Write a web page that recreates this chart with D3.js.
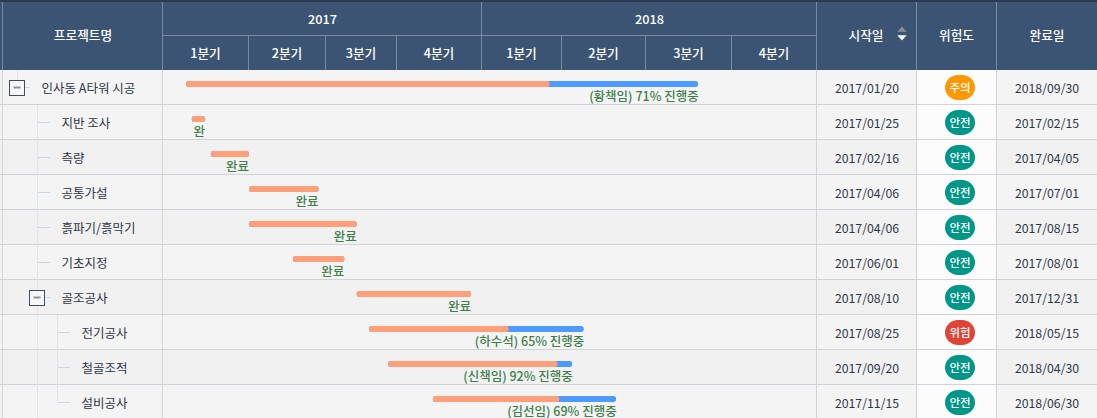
<!DOCTYPE html>
<html>
<head>
<meta charset="utf-8" />
<script src="https://d3js.org/d3.v7.min.js"></script>
<style>
  body { margin: 0; background: #fff; overflow: hidden; }
  svg { display: block; }
  text { font-family: "Noto Sans CJK KR", "Noto Sans", sans-serif; }
</style>
</head>
<body>
<div id="chart"></div>
<script>
// table data
const projects = ["인사동 A타워 시공", "지반 조사", "측량", "공통가설", "흙파기/흙막기", "기초지정", "골조공사", "전기공사", "철골조적", "설비공사"];
const levels = [0, 1, 1, 1, 1, 1, 1, 2, 2, 2];
const startLabels = ["2017/01/20", "2017/01/25", "2017/02/16", "2017/04/06", "2017/04/06", "2017/06/01", "2017/08/10", "2017/08/25", "2017/09/20", "2017/11/15"];
const endLabels = ["2018/09/30", "2017/02/15", "2017/04/05", "2017/07/01", "2017/08/15", "2017/08/01", "2017/12/31", "2018/05/15", "2018/04/30", "2018/06/30"];
const risks = ["주의", "안전", "안전", "안전", "안전", "안전", "안전", "위험", "안전", "안전"];

// where the bars actually sit (not quite the table dates)
const barStarts = ["2017-01-20", "2017-01-27", "2017-02-19", "2017-04-06", "2017-04-06", "2017-05-29", "2017-08-14", "2017-08-29", "2017-09-21", "2017-11-14"];
const barEnds = ["2018-09-30", "2017-02-12", "2017-04-06", "2017-06-29", "2017-08-14", "2017-07-30", "2017-12-30", "2018-05-15", "2018-05-01", "2018-06-23"];
const progress = [71, 100, 100, 100, 100, 100, 100, 65, 92, 69];
const barLabels = ["(황책임) 71% 진행중", "완", "완료", "완료", "완료", "완료", "완료", "(하수석) 65% 진행중", "(신책임) 92% 진행중", "(김선임) 69% 진행중"];

// header
const years = ["2017", "2018"];
const quarters = ["1분기", "2분기", "3분기", "4분기", "1분기", "2분기", "3분기", "4분기"];

const width = 1097, height = 418;
const colX = [2, 162, 816, 916, 996, 1097];
const quarterX = [162, 248, 325, 396, 481, 561, 645, 731, 816];
const headerTop = 2, headerMid = 35, headerBottom = 69, rowH = 35;

const headerFill = "#3c5473", headerLine = "#7a8a9f", gridLine = "#d2d2d8";
const textDark = "#2f3744";
const riskColor = d3.scaleOrdinal().domain(["주의", "안전", "위험"]).range(["#ff9800", "#009688", "#e04437"]);

const parse = d3.timeParse("%Y-%m-%d");
const x = d3.scaleTime()
  .domain([parse("2017-01-01"), parse("2018-09-30")])
  .range([170.3, 698]);
const y = d3.scaleBand()
  .domain(d3.range(projects.length))
  .range([headerBottom + 1, headerBottom + 1 + rowH * projects.length]);

const svg = d3.select("#chart").append("svg").attr("width", width).attr("height", height);

// rows
const rows = svg.selectAll("g.row").data(projects).join("g")
  .attr("class", "row")
  .attr("transform", (d, i) => `translate(0,${y(i)})`);

rows.append("rect")
  .attr("x", 0).attr("y", 0).attr("width", width).attr("height", rowH)
  .attr("fill", (d, i) => i > 0 && i % 2 === 0 ? "#f1f1f2" : "#f4f4f5");
rows.append("rect")
  .attr("x", colX[3]).attr("y", 0).attr("width", colX[4] - colX[3]).attr("height", rowH)
  .attr("fill", "#fcfcfc");
rows.append("line")
  .attr("x1", 0).attr("x2", width).attr("y1", rowH - 0.5).attr("y2", rowH - 0.5)
  .attr("stroke", gridLine);

// tree guide lines
const guide = "#e2e4ea", stub = "#cdd6e2";
svg.append("line").attr("x1", 17.5).attr("x2", 17.5).attr("y1", 70).attr("y2", 80).attr("stroke", guide);
svg.append("line").attr("x1", 37.5).attr("x2", 37.5).attr("y1", 105).attr("y2", height).attr("stroke", guide);
svg.append("line").attr("x1", 57.5).attr("x2", 57.5).attr("y1", 315).attr("y2", 402).attr("stroke", guide);
rows.append("line")
  .attr("x1", (d, i) => i === 0 ? 24 : i === 6 ? 44 : 17.5 + levels[i] * 20)
  .attr("x2", (d, i) => 30 + levels[i] * 20)
  .attr("y1", 17).attr("y2", 17)
  .attr("transform", "translate(0,0.5)")
  .attr("stroke", stub);

// collapse boxes on the parent rows
[0, 6].forEach(i => {
  const bx = 9.5 + levels[i] * 20, by = y(i) + 10.5;
  svg.append("rect").attr("x", bx).attr("y", by).attr("width", 15).attr("height", 15)
    .attr("fill", "#f6f6f7").attr("stroke", "#3f4d63");
  svg.append("line").attr("x1", bx + 4).attr("x2", bx + 11).attr("y1", by + 7).attr("y2", by + 7)
    .attr("stroke", "#8c919b").attr("stroke-width", 2);
});

rows.append("text")
  .attr("x", (d, i) => 41.5 + levels[i] * 20)
  .attr("y", 22.5)
  .attr("font-size", 12.5)
  .attr("fill", textDark)
  .text(d => d);

// gantt bars
const bars = rows.append("g");
bars.append("rect")
  .attr("x", (d, i) => x(parse(barStarts[i])))
  .attr("y", 11)
  .attr("width", (d, i) => x(parse(barEnds[i])) - x(parse(barStarts[i])))
  .attr("height", 6).attr("rx", 2.5)
  .attr("fill", "#4d9bff");
bars.append("rect")
  .attr("x", (d, i) => x(parse(barStarts[i])))
  .attr("y", 11)
  .attr("width", (d, i) => (x(parse(barEnds[i])) - x(parse(barStarts[i]))) * progress[i] / 100)
  .attr("height", 6).attr("rx", 2.5)
  .attr("fill", "#ffa07a");
bars.append("text")
  .attr("x", (d, i) => x(parse(barEnds[i])) + (progress[i] < 100 ? 0.7 : 0))
  .attr("y", 31)
  .attr("text-anchor", "end")
  .attr("font-size", 12.5)
  .attr("font-weight", 500)
  .attr("fill", "#3f7f4c")
  .text((d, i) => barLabels[i]);

// date columns
rows.append("text")
  .attr("x", (colX[2] + colX[3]) / 2 + 1).attr("y", 22.5)
  .attr("text-anchor", "middle").attr("font-size", 12.3).attr("fill", textDark)
  .text((d, i) => startLabels[i]);
rows.append("text")
  .attr("x", (colX[4] + colX[5]) / 2 + 0.5).attr("y", 22.5)
  .attr("text-anchor", "middle").attr("font-size", 12.3).attr("fill", textDark)
  .text((d, i) => endLabels[i]);

// risk badges
rows.append("rect")
  .attr("x", 945).attr("y", 5).attr("width", 30).attr("height", 25).attr("rx", 13)
  .attr("fill", (d, i) => riskColor(risks[i]));
rows.append("text")
  .attr("x", 960).attr("y", 22)
  .attr("text-anchor", "middle").attr("font-size", 11.5).attr("font-weight", 500).attr("fill", "#fff")
  .text((d, i) => risks[i]);

// vertical grid in the body
svg.selectAll("line.vgrid").data(colX.slice(0, 5)).join("line")
  .attr("class", "vgrid")
  .attr("x1", d => d + 0.5).attr("x2", d => d + 0.5)
  .attr("y1", headerBottom).attr("y2", height)
  .attr("stroke", gridLine);

// header
const head = svg.append("g");
head.append("rect").attr("x", 0).attr("y", headerTop).attr("width", width).attr("height", headerBottom - headerTop + 1).attr("fill", headerFill);
head.append("rect").attr("x", 0).attr("y", 0).attr("width", width).attr("height", 2).attr("fill", "#2b3a50");

const headLine = (x1, x2, y1, y2) => head.append("line")
  .attr("x1", x1).attr("x2", x2).attr("y1", y1).attr("y2", y2).attr("stroke", headerLine);
colX.slice(0, 5).forEach(c => headLine(c + 0.5, c + 0.5, headerTop, headerBottom + 1));
headLine(quarterX[0], quarterX[8], headerMid + 0.5, headerMid + 0.5);
headLine(quarterX[4] + 0.5, quarterX[4] + 0.5, headerTop, headerMid);
quarterX.slice(1, 8).forEach(q => headLine(q + 0.5, q + 0.5, headerMid, headerBottom + 1));

const headText = (cx, cy, s) => head.append("text")
  .attr("x", cx).attr("y", cy)
  .attr("text-anchor", "middle").attr("font-size", 12.7).attr("font-weight", 500).attr("fill", "#fff")
  .text(s);
headText(83, 40, "프로젝트명");
headText(866, 40, "시작일");
headText(956.5, 40, "위험도");
headText(1047, 40, "완료일");
years.forEach((d, i) => headText((quarterX[i * 4] + quarterX[i * 4 + 4]) / 2 + 1, 24, d));
quarters.forEach((d, i) => headText((quarterX[i] + quarterX[i + 1]) / 2 + 0.5, 58, d));

// sort arrows
const tri = d3.symbol().type(d3.symbolTriangle).size(26);
head.append("path").attr("d", tri).attr("transform", "translate(902,30) scale(1.2,0.8)").attr("fill", "#7f8ea3");
head.append("path").attr("d", tri).attr("transform", "translate(902,37) rotate(180) scale(1.2,0.8)").attr("fill", "#fff");
</script>
</body>
</html>
